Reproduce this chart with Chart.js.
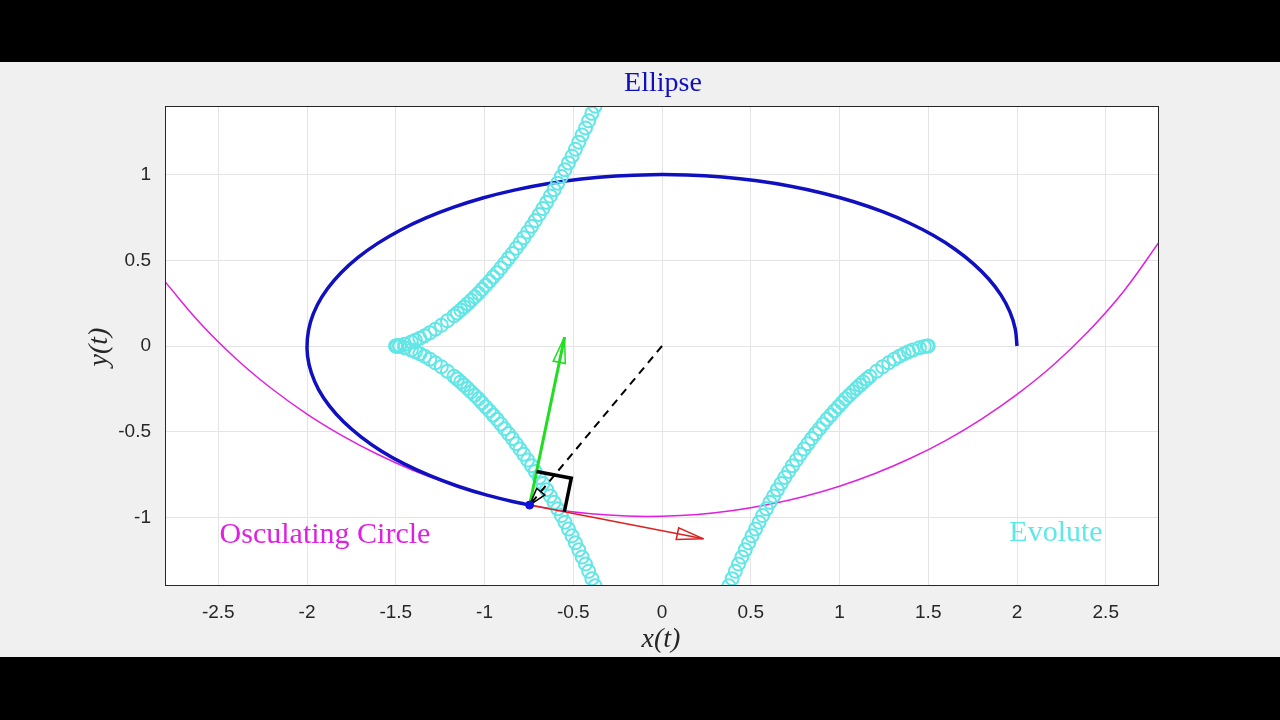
<!DOCTYPE html>
<html><head><meta charset="utf-8">
<script src="https://cdn.jsdelivr.net/npm/chart.js@4"></script>
<style>
html,body{margin:0;padding:0;background:#000;width:1280px;height:720px;overflow:hidden}
#fig{position:absolute;left:0;top:62px;width:1280px;height:595px;background:#f0f0f0}
</style></head><body>
<div id="fig"><canvas id="c" width="1280" height="595"></canvas></div>
<script>
const xTicks=[-2.5,-2,-1.5,-1,-0.5,0,0.5,1,1.5,2,2.5];
const yTicks=[-1,-0.5,0,0.5,1];
const ellipsePts=[[2,0],[1.990,0.0998],[1.960,0.1987],[1.911,0.2955],[1.842,0.3894],[1.755,0.4794],[1.651,0.5646],[1.530,0.6442],[1.393,0.7174],[1.243,0.7833],[1.081,0.8415],[0.907,0.8912],[0.725,0.9320],[0.535,0.9636],[0.340,0.9854],[0.141,0.9975],[-0.058,0.9996],[-0.258,0.9917],[-0.454,0.9738],[-0.647,0.9463],[-0.832,0.9093],[-1.010,0.8632],[-1.177,0.8085],[-1.333,0.7457],[-1.475,0.6755],[-1.602,0.5985],[-1.714,0.5155],[-1.808,0.4274],[-1.884,0.3350],[-1.942,0.2392],[-1.980,0.1411],[-1.998,0.0416],[-1.997,-0.0584],[-1.975,-0.1577],[-1.934,-0.2555],[-1.873,-0.3508],[-1.794,-0.4425],[-1.696,-0.5298],[-1.582,-0.6119],[-1.452,-0.6878],[-1.307,-0.7568],[-1.150,-0.8183],[-0.981,-0.8716],[-0.802,-0.9162],[-0.746,-0.9278]];
const evoluteRight=[[1.5,0],[1.494,-0.0004],[1.478,-0.003],[1.450,-0.010],[1.412,-0.024],[1.389,-0.033],[1.364,-0.045],[1.337,-0.060],[1.308,-0.077],[1.277,-0.098],[1.243,-0.121],[1.209,-0.147],[1.172,-0.177],[1.153,-0.193],[1.134,-0.210],[1.115,-0.228],[1.095,-0.247],[1.075,-0.267],[1.055,-0.287],[1.034,-0.308],[1.014,-0.331],[0.993,-0.354],[0.972,-0.378],[0.951,-0.403],[0.929,-0.428],[0.908,-0.455],[0.887,-0.483],[0.865,-0.511],[0.843,-0.540],[0.822,-0.570],[0.800,-0.601],[0.779,-0.632],[0.757,-0.665],[0.735,-0.698],[0.714,-0.732],[0.692,-0.767],[0.671,-0.802],[0.650,-0.838],[0.629,-0.875],[0.608,-0.912],[0.588,-0.950],[0.567,-0.989],[0.547,-1.028],[0.527,-1.068],[0.507,-1.107],[0.488,-1.148],[0.469,-1.189],[0.450,-1.231],[0.431,-1.272],[0.413,-1.314],[0.395,-1.357],[0.377,-1.399],[0.360,-1.442]];
const evoluteLowerLeft=[[-1.5,0],[-1.494,-0.0004],[-1.478,-0.003],[-1.450,-0.010],[-1.412,-0.024],[-1.389,-0.033],[-1.364,-0.045],[-1.337,-0.060],[-1.308,-0.077],[-1.277,-0.098],[-1.243,-0.121],[-1.209,-0.147],[-1.172,-0.177],[-1.153,-0.193],[-1.134,-0.210],[-1.115,-0.228],[-1.095,-0.247],[-1.075,-0.267],[-1.055,-0.287],[-1.034,-0.308],[-1.014,-0.331],[-0.993,-0.354],[-0.972,-0.378],[-0.951,-0.403],[-0.929,-0.428],[-0.908,-0.455],[-0.887,-0.483],[-0.865,-0.511],[-0.843,-0.540],[-0.822,-0.570],[-0.800,-0.601],[-0.779,-0.632],[-0.757,-0.665],[-0.735,-0.698],[-0.714,-0.732],[-0.692,-0.767],[-0.671,-0.802],[-0.650,-0.838],[-0.629,-0.875],[-0.608,-0.912],[-0.588,-0.950],[-0.567,-0.989],[-0.547,-1.028],[-0.527,-1.068],[-0.507,-1.107],[-0.488,-1.148],[-0.469,-1.189],[-0.450,-1.231],[-0.431,-1.272],[-0.413,-1.314],[-0.395,-1.357],[-0.377,-1.399],[-0.360,-1.442]];
const evoluteUpper=[[-1.5,0],[-1.494,0.0004],[-1.478,0.003],[-1.450,0.010],[-1.412,0.024],[-1.389,0.033],[-1.364,0.045],[-1.337,0.060],[-1.308,0.077],[-1.277,0.098],[-1.243,0.121],[-1.209,0.147],[-1.172,0.177],[-1.153,0.193],[-1.134,0.210],[-1.115,0.228],[-1.095,0.247],[-1.075,0.267],[-1.055,0.287],[-1.034,0.308],[-1.014,0.331],[-0.993,0.354],[-0.972,0.378],[-0.951,0.403],[-0.929,0.428],[-0.908,0.455],[-0.887,0.483],[-0.865,0.511],[-0.843,0.540],[-0.822,0.570],[-0.800,0.601],[-0.779,0.632],[-0.757,0.665],[-0.735,0.698],[-0.714,0.732],[-0.692,0.767],[-0.671,0.802],[-0.650,0.838],[-0.629,0.875],[-0.608,0.912],[-0.588,0.950],[-0.567,0.989],[-0.547,1.028],[-0.527,1.068],[-0.507,1.107],[-0.488,1.148],[-0.469,1.189],[-0.450,1.231],[-0.431,1.272],[-0.413,1.314],[-0.395,1.357],[-0.377,1.399],[-0.360,1.442]];
const oscCircle=[[-2.8,0.375],[-2.6,0.131],[-2.4,-0.074],[-2.2,-0.248],[-2.0,-0.397],[-1.8,-0.524],[-1.6,-0.633],[-1.4,-0.726],[-1.2,-0.803],[-1.0,-0.866],[-0.8,-0.916],[-0.6,-0.954],[-0.4,-0.979],[-0.2,-0.992],[0,-0.993],[0.2,-0.983],[0.4,-0.960],[0.6,-0.925],[0.8,-0.878],[1.0,-0.818],[1.2,-0.744],[1.4,-0.655],[1.6,-0.550],[1.8,-0.426],[2.0,-0.282],[2.2,-0.115],[2.4,0.083],[2.6,0.318],[2.8,0.605]];
const pointP=[[-0.746,-0.928]];
const normalArrow=[[-0.746,-0.928],[-0.549,0.052]];
const normalHead=[[-0.549,0.052],[-0.545,-0.102],[-0.613,-0.088],[-0.549,0.052]];
const tangentArrow=[[-0.746,-0.928],[0.234,-1.125]];
const tangentHead=[[0.234,-1.125],[0.094,-1.061],[0.080,-1.129],[0.234,-1.125]];
const radiusLine=[[0,0],[-0.746,-0.928]];
const radiusHead=[[-0.746,-0.928],[-0.660,-0.869],[-0.706,-0.831],[-0.746,-0.928]];
const rightAngle=[[-0.550,-0.967],[-0.511,-0.771],[-0.707,-0.732]];

const xy=a=>a.map(p=>({x:p[0],y:p[1]}));
const L=(d,color,w,order,extra)=>Object.assign({data:xy(d),showLine:true,borderColor:color,borderWidth:w,pointRadius:0,fill:false,tension:0,order},extra||{});
const ev=d=>({data:xy(d),showLine:false,pointRadius:6.5,pointStyle:'circle',borderColor:'#62e6e6',backgroundColor:'rgba(0,0,0,0)',pointBorderWidth:2,order:3});

const bgPlugin={id:'bg',beforeDraw(ch){const c=ch.ctx,a=ch.chartArea;c.save();c.fillStyle='#fff';c.fillRect(a.left,a.top,a.right-a.left,a.bottom-a.top);c.restore();}};
const textPlugin={id:'texts',afterDraw(ch){
  const c=ch.ctx,a=ch.chartArea;
  c.save();
  c.strokeStyle='#262626';c.lineWidth=1;c.strokeRect(a.left+0.5,a.top+0.5,a.right-a.left-1,a.bottom-a.top-1);
  c.textAlign='center';c.textBaseline='middle';
  c.fillStyle='#1010b8';c.font='28px "Liberation Serif"';c.fillText('Ellipse',663,22);
  c.fillStyle='#262626';c.font='italic 28px "Liberation Serif"';c.fillText('x(t)',661,578);
  c.save();c.translate(100,285);c.rotate(-Math.PI/2);c.fillText('y(t)',0,0);c.restore();
  c.fillStyle='#e020e0';c.font='30px "Liberation Serif"';c.fillText('Osculating Circle',325,473);
  c.fillStyle='#5ee8e8';c.fillText('Evolute',1056,471);
  c.restore();
}};

new Chart(document.getElementById('c'),{type:'scatter',
 data:{datasets:[
  L(oscCircle,'#e020e0',1.5,6,{tension:0.4}),
  L(ellipsePts,'#1010c0',3.5,5,{tension:0.4}),
  ev(evoluteRight),ev(evoluteLowerLeft),ev(evoluteUpper),
  L(radiusLine,'#000',2,2,{borderDash:[8,6]}),
  L(radiusHead,'#000',1.5,2),
  L(normalArrow,'#22dd22',3,2),L(normalHead,'#22dd22',1.5,2),
  L(tangentArrow,'#dd2020',1.5,2),L(tangentHead,'#dd2020',1.5,2),
  L(rightAngle,'#000',3.5,1),
  {data:xy(pointP),showLine:false,pointRadius:4,backgroundColor:'#1010e0',borderColor:'#1010e0',order:0}
 ]},
 options:{responsive:false,animation:false,events:[],
  layout:{padding:{top:44,right:121,left:0,bottom:0}},
  plugins:{legend:{display:false},tooltip:{enabled:false}},
  scales:{
   x:{type:'linear',min:-2.8,max:2.8,
     afterBuildTicks:s=>{s.ticks=xTicks.map(v=>({value:v}));},
     afterFit:s=>{s.height=71;},
     grid:{color:'#e4e4e4',drawTicks:false},border:{display:false},
     ticks:{color:'#262626',font:{family:'"Liberation Sans"',size:19},padding:15,maxRotation:0,callback:v=>String(v)}},
   y:{type:'linear',min:-1.4,max:1.4,
     afterBuildTicks:s=>{s.ticks=yTicks.map(v=>({value:v}));},
     afterFit:s=>{s.width=165;},
     grid:{color:'#e4e4e4',drawTicks:false},border:{display:false},
     ticks:{color:'#262626',font:{family:'"Liberation Sans"',size:19},padding:14,callback:v=>String(v)}}
  }},
 plugins:[bgPlugin,textPlugin]});
</script></body></html>
